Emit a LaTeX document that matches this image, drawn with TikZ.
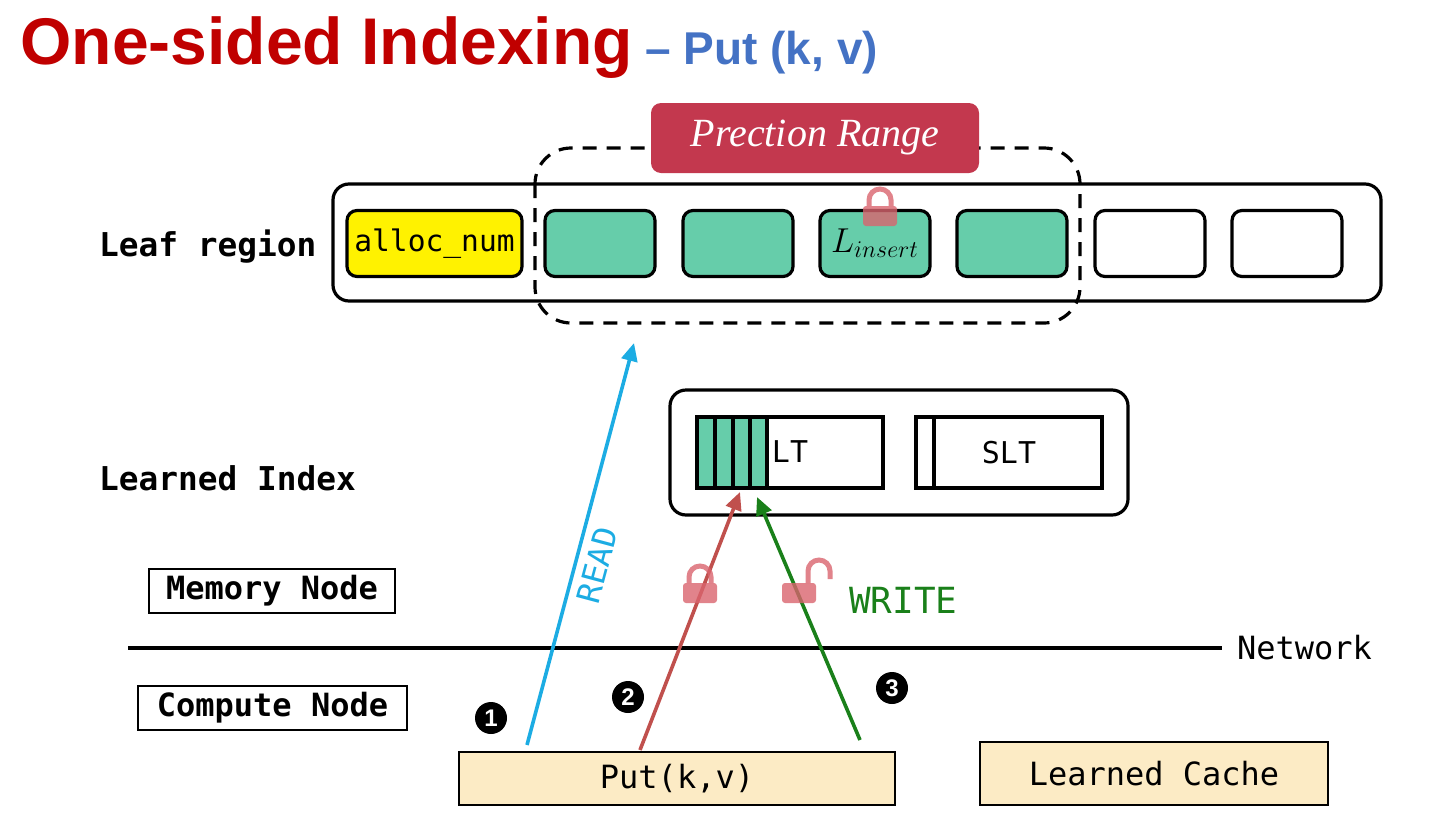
\documentclass[tikz,border=0pt]{standalone}
\usepackage{fontspec}
\setmainfont{Liberation Sans}
\newfontfamily\mono{DejaVu Sans Mono}
\newfontfamily\serifi{Liberation Serif}
\usetikzlibrary{arrows.meta}
\definecolor{tred}{HTML}{C00000}
\definecolor{tblue}{HTML}{4472C4}
\definecolor{cgreen}{HTML}{66CDAA}
\definecolor{pr}{HTML}{C3384E}
\definecolor{lk}{HTML}{D9646E}
\definecolor{cream}{HTML}{FCEBC5}
\definecolor{rd}{HTML}{C0504D}
\definecolor{gr}{HTML}{1A801A}
\definecolor{cy}{HTML}{1CACE3}
\tikzset{
 cell/.style={draw,line width=1.6pt,rounded corners=5pt,minimum width=55pt,minimum height=33pt,inner sep=0pt},
 lbl/.style={font=\mono\bfseries\fontsize{16.4}{16}\selectfont,anchor=west},
 num/.style={circle,fill=black,text=white,inner sep=0pt,minimum size=16pt,font=\bfseries\fontsize{12}{12}\selectfont},
 arr/.style={line width=1.8pt,-{Triangle[length=9pt,width=8pt]}},
}
\newcommand{\lockC}[2]{\begin{scope}[shift={(#1,#2)}]
 \fill[lk,opacity=0.8,rounded corners=1.5pt] (-17,-2) rectangle (17,18);
 \draw[lk,opacity=0.8,line width=2.5pt] (-11,-2) -- (-11,-8) arc(180:360:11) -- (11,-2);
\end{scope}}
\newcommand{\lockO}[2]{\begin{scope}[shift={(#1,#2)}]
 \fill[lk,opacity=0.8,rounded corners=1.5pt] (-30,-2) rectangle (4,18);
 \draw[lk,opacity=0.8,line width=2.5pt] (-4,-2) -- (-4,-14) arc(180:360:11) -- (18,-6);
\end{scope}}
\begin{document}
\begin{tikzpicture}[x=0.5pt,y=-0.5pt]
\useasboundingbox (0,0) rectangle (1440,825);
\node[anchor=base west,text=tred,font=\bfseries\fontsize{33}{33}\selectfont,inner sep=0] (t) at (20,64) {One-sided Indexing};
\node[anchor=base west,text=tblue,font=\bfseries\fontsize{23}{23}\selectfont,inner sep=0] (st) at (645,64) {– Put (k, v)};
% leaf region
\node[draw,line width=1.6pt,rounded corners=8pt,minimum width=524pt,minimum height=58.5pt,inner sep=0] (leaf) at (857,242.5) {};
\node[lbl] (lr) at (92,247) {Leaf region};
\node[cell,fill=yellow,minimum width=87.5pt,font=\mono\fontsize{14.8}{14}\selectfont] (c0) at (434.5,243.5) {alloc\_num};
\node[cell,fill=cgreen] (c1) at (600,243.5) {};
\node[cell,fill=cgreen] (c2) at (738,243.5) {};
\node[cell,fill=cgreen] (c3) at (875,243.5) {\fontsize{17}{17}\selectfont$L_{insert}$};
\node[cell,fill=cgreen] (c4) at (1012,243.5) {};
\node[cell] (c5) at (1150,243.5) {};
\node[cell] (c6) at (1287,243.5) {};
\draw[dashed,dash pattern=on 7pt off 5pt,line width=1.6pt,rounded corners=18pt] (535,148) rectangle (1080,323);
\node[fill=pr,rounded corners=5pt,minimum width=164pt,minimum height=35pt,text=white] (pr) at (815,138) {\serifi\itshape\fontsize{20}{20}\selectfont Prection Range};
\lockC{880}{208}
% learned index
\node[draw,line width=1.6pt,rounded corners=8pt,minimum width=229pt,minimum height=62.5pt] (li) at (899,452.5) {};
\node[draw,line width=1.6pt,minimum width=93pt,minimum height=35.5pt,inner sep=0] (lt) at (790,452.5) {};
\fill[cgreen] (697,417) rectangle (767,488);
\foreach \x in {715,733,750,767} \draw[line width=1.6pt] (\x,417) -- (\x,488);
\draw[line width=1.6pt] (697,417) rectangle (883,488);
\node[font=\mono\fontsize{15}{15}\selectfont] (ltt) at (790,452) {LT};
\node[draw,line width=1.6pt,minimum width=93pt,minimum height=35.5pt,font=\mono\fontsize{15}{15}\selectfont] (slt) at (1009,452.5) {SLT};
\draw[line width=1.6pt] (934,417) -- (934,488);
\node[lbl] (lix) at (92,478) {Learned Index};
% nodes
\node[draw,line width=1.2pt,minimum width=123pt,minimum height=22pt,font=\mono\bfseries\fontsize{16}{16}\selectfont] (mn) at (272,591) {Memory Node};
\node[draw,line width=1.2pt,minimum width=134.5pt,minimum height=22pt,font=\mono\bfseries\fontsize{16}{16}\selectfont] (cn) at (272.5,708) {Compute Node};
\coordinate (n1) at (128,648);
\coordinate (n2) at (1222,648);
\draw[line width=2pt] (n1) -- (n2);
\node[anchor=west,font=\mono\fontsize{16}{16}\selectfont] (net) at (1230,648) {Network};
\node[draw,line width=1.4pt,fill=cream,minimum width=218pt,minimum height=26.5pt,font=\mono\fontsize{16}{16}\selectfont] (put) at (677,778.5) {Put(k,v)};
\node[draw,line width=1.4pt,fill=cream,minimum width=174pt,minimum height=31.5pt,font=\mono\fontsize{16}{16}\selectfont] (lc) at (1154,773.5) {Learned Cache};
% arrows
\coordinate (r0) at (527,745); \coordinate (r1) at (634,343);
\draw[arr,cy] (r0) -- (r1);
\node[text=cy,rotate=75,font=\mono\fontsize{16}{16}\selectfont] (read) at (597,565) {READ};
\coordinate (a0) at (640,750); \coordinate (a1) at (740,492);
\draw[arr,rd] (a0) -- (a1);
\coordinate (g0) at (860,740); \coordinate (g1) at (757,497);
\draw[arr,gr] (g0) -- (g1);
\node[anchor=west,text=gr,font=\mono\fontsize{18}{18}\selectfont] (wr) at (842,600) {WRITE};
\lockC{700}{585}
\lockO{812}{585}
\node[num] (k1) at (491,718) {1};
\node[num] (k2) at (628,697) {2};
\node[num] (k3) at (892,688) {3};
\end{tikzpicture}
\end{document}
